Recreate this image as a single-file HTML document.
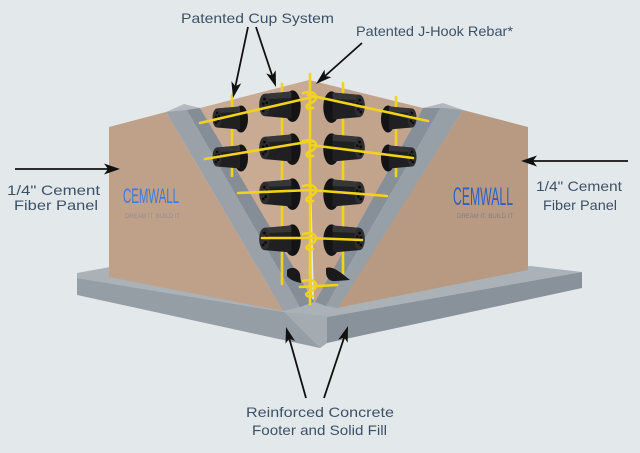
<!DOCTYPE html>
<html><head><meta charset="utf-8"><style>
html,body{margin:0;padding:0;background:#e3e9eb;}
svg{display:block;}
</style></head><body>
<svg width="640" height="453" viewBox="0 0 640 453" xmlns="http://www.w3.org/2000/svg">
<rect width="640" height="453" fill="#e3e9eb"/>

<!-- Footer -->
<polygon points="77,273 110,267 320,300 530,266 582,272 327,317 284,312 77,278" fill="#aab1b7"/>
<polygon points="77,278 284,312 327,317 327,343 320,348 77,295" fill="#959da5"/>
<polygon points="327,317 582,272 582,288 327,343" fill="#89919a"/>
<polygon points="284,312 327,316 327,343 320,348" fill="#a4abb1"/>

<!-- Back panels -->
<polygon points="200,108 309,80 312,304" fill="#c9aa92"/>
<polygon points="309,80 423,108 314,304" fill="#c2a48c"/>

<!-- Side panels -->
<polygon points="109,127 166,112 283,311 109,277" fill="#bfa088"/>
<polygon points="463,110 528,127 528,270 337,308" fill="#b89a82"/>

<!-- Left strip -->
<polygon points="166,112 184,105 300,307 283,311" fill="#9aa1a9"/>
<polygon points="184,105 200,108 314,302 300,307" fill="#858d96"/>
<polygon points="166,112 184,104 200,108 186,110" fill="#b4bac0"/>
<!-- Right strip -->
<polygon points="423,108 443,104 326,306 315,302" fill="#878f98"/>
<polygon points="443,104 463,110 338,308 326,306" fill="#979fa7"/>
<polygon points="423,108 443,103 463,110 445,108" fill="#b2b8be"/>

<!-- Logos -->
<text x="123" y="203" font-family="Liberation Sans, sans-serif" font-size="21" fill="#3b7be0" textLength="56" lengthAdjust="spacingAndGlyphs">CEMWALL</text>
<text x="125" y="218" font-family="Liberation Sans, sans-serif" font-size="6" fill="#8e8f98" textLength="55" lengthAdjust="spacingAndGlyphs">DREAM IT. BUILD IT</text>
<text x="453" y="205" font-family="Liberation Sans, sans-serif" font-size="25" fill="#2c62c4" textLength="60" lengthAdjust="spacingAndGlyphs">CEMWALL</text>
<text x="457" y="218" font-family="Liberation Sans, sans-serif" font-size="6" fill="#7c7d86" textLength="56" lengthAdjust="spacingAndGlyphs">DREAM IT. BUILD IT</text>

<!-- Rebar (behind cups) -->
<g stroke="#f2d31b" stroke-width="2.6" fill="none" stroke-linecap="round">
  <line x1="232" y1="95" x2="232" y2="176"/>
  <line x1="282" y1="84" x2="282" y2="284"/>
  <line x1="310" y1="74" x2="310" y2="304"/>
  <line x1="343" y1="83" x2="343" y2="276"/>
  <line x1="396" y1="97" x2="396" y2="176"/>
</g>

<!-- Cups: left wall (face left) -->
<g transform="translate(232,118) scale(1.0)">
  <ellipse cx="9" cy="1" rx="7" ry="13.5" fill="#141416"/>
  <path d="M-15,-9.5 L8,-11.5 L8,11.5 L-15,9.5 Z" fill="#202022"/>
  <path d="M-15,-9.5 L8,-11.5 L8,-6 L-15,-5 Z" fill="#363639"/>
  <ellipse cx="-15" cy="0" rx="4.5" ry="9.5" fill="#2e2e31"/>
  <g fill="#0b0b0b"><circle cx="-15" cy="-5" r="1.2"/><circle cx="-16" cy="-1" r="1.2"/><circle cx="-14" cy="3" r="1.2"/><circle cx="-16" cy="5" r="1.2"/><circle cx="-13" cy="-2" r="1.2"/></g>
</g>
<g transform="translate(232,157) scale(1.0)">
  <ellipse cx="9" cy="1" rx="7" ry="13.5" fill="#141416"/>
  <path d="M-15,-9.5 L8,-11.5 L8,11.5 L-15,9.5 Z" fill="#202022"/>
  <path d="M-15,-9.5 L8,-11.5 L8,-6 L-15,-5 Z" fill="#363639"/>
  <ellipse cx="-15" cy="0" rx="4.5" ry="9.5" fill="#2e2e31"/>
  <g fill="#0b0b0b"><circle cx="-15" cy="-5" r="1.2"/><circle cx="-16" cy="-1" r="1.2"/><circle cx="-14" cy="3" r="1.2"/><circle cx="-16" cy="5" r="1.2"/><circle cx="-13" cy="-2" r="1.2"/></g>
</g>
<g transform="translate(282,105) scale(1.17)">
  <ellipse cx="9" cy="1" rx="7" ry="13.5" fill="#141416"/>
  <path d="M-15,-9.5 L8,-11.5 L8,11.5 L-15,9.5 Z" fill="#202022"/>
  <path d="M-15,-9.5 L8,-11.5 L8,-6 L-15,-5 Z" fill="#363639"/>
  <ellipse cx="-15" cy="0" rx="4.5" ry="9.5" fill="#2e2e31"/>
  <g fill="#0b0b0b"><circle cx="-15" cy="-5" r="1.2"/><circle cx="-16" cy="-1" r="1.2"/><circle cx="-14" cy="3" r="1.2"/><circle cx="-16" cy="5" r="1.2"/><circle cx="-13" cy="-2" r="1.2"/></g>
</g>
<g transform="translate(282,148) scale(1.17)">
  <ellipse cx="9" cy="1" rx="7" ry="13.5" fill="#141416"/>
  <path d="M-15,-9.5 L8,-11.5 L8,11.5 L-15,9.5 Z" fill="#202022"/>
  <path d="M-15,-9.5 L8,-11.5 L8,-6 L-15,-5 Z" fill="#363639"/>
  <ellipse cx="-15" cy="0" rx="4.5" ry="9.5" fill="#2e2e31"/>
  <g fill="#0b0b0b"><circle cx="-15" cy="-5" r="1.2"/><circle cx="-16" cy="-1" r="1.2"/><circle cx="-14" cy="3" r="1.2"/><circle cx="-16" cy="5" r="1.2"/><circle cx="-13" cy="-2" r="1.2"/></g>
</g>
<g transform="translate(282,193) scale(1.17)">
  <ellipse cx="9" cy="1" rx="7" ry="13.5" fill="#141416"/>
  <path d="M-15,-9.5 L8,-11.5 L8,11.5 L-15,9.5 Z" fill="#202022"/>
  <path d="M-15,-9.5 L8,-11.5 L8,-6 L-15,-5 Z" fill="#363639"/>
  <ellipse cx="-15" cy="0" rx="4.5" ry="9.5" fill="#2e2e31"/>
  <g fill="#0b0b0b"><circle cx="-15" cy="-5" r="1.2"/><circle cx="-16" cy="-1" r="1.2"/><circle cx="-14" cy="3" r="1.2"/><circle cx="-16" cy="5" r="1.2"/><circle cx="-13" cy="-2" r="1.2"/></g>
</g>
<g transform="translate(282,239) scale(1.17)">
  <ellipse cx="9" cy="1" rx="7" ry="13.5" fill="#141416"/>
  <path d="M-15,-9.5 L8,-11.5 L8,11.5 L-15,9.5 Z" fill="#202022"/>
  <path d="M-15,-9.5 L8,-11.5 L8,-6 L-15,-5 Z" fill="#363639"/>
  <ellipse cx="-15" cy="0" rx="4.5" ry="9.5" fill="#2e2e31"/>
  <g fill="#0b0b0b"><circle cx="-15" cy="-5" r="1.2"/><circle cx="-16" cy="-1" r="1.2"/><circle cx="-14" cy="3" r="1.2"/><circle cx="-16" cy="5" r="1.2"/><circle cx="-13" cy="-2" r="1.2"/></g>
</g>

<!-- Cups: right wall (face right) -->
<g transform="translate(342,106) scale(-1.17,1.17)">
  <ellipse cx="9" cy="1" rx="7" ry="13.5" fill="#141416"/>
  <path d="M-15,-9.5 L8,-11.5 L8,11.5 L-15,9.5 Z" fill="#202022"/>
  <path d="M-15,-9.5 L8,-11.5 L8,-6 L-15,-5 Z" fill="#363639"/>
  <ellipse cx="-15" cy="0" rx="4.5" ry="9.5" fill="#2e2e31"/>
  <g fill="#0b0b0b"><circle cx="-15" cy="-5" r="1.2"/><circle cx="-16" cy="-1" r="1.2"/><circle cx="-14" cy="3" r="1.2"/><circle cx="-16" cy="5" r="1.2"/><circle cx="-13" cy="-2" r="1.2"/></g>
</g>
<g transform="translate(342,148) scale(-1.17,1.17)">
  <ellipse cx="9" cy="1" rx="7" ry="13.5" fill="#141416"/>
  <path d="M-15,-9.5 L8,-11.5 L8,11.5 L-15,9.5 Z" fill="#202022"/>
  <path d="M-15,-9.5 L8,-11.5 L8,-6 L-15,-5 Z" fill="#363639"/>
  <ellipse cx="-15" cy="0" rx="4.5" ry="9.5" fill="#2e2e31"/>
  <g fill="#0b0b0b"><circle cx="-15" cy="-5" r="1.2"/><circle cx="-16" cy="-1" r="1.2"/><circle cx="-14" cy="3" r="1.2"/><circle cx="-16" cy="5" r="1.2"/><circle cx="-13" cy="-2" r="1.2"/></g>
</g>
<g transform="translate(342,193) scale(-1.17,1.17)">
  <ellipse cx="9" cy="1" rx="7" ry="13.5" fill="#141416"/>
  <path d="M-15,-9.5 L8,-11.5 L8,11.5 L-15,9.5 Z" fill="#202022"/>
  <path d="M-15,-9.5 L8,-11.5 L8,-6 L-15,-5 Z" fill="#363639"/>
  <ellipse cx="-15" cy="0" rx="4.5" ry="9.5" fill="#2e2e31"/>
  <g fill="#0b0b0b"><circle cx="-15" cy="-5" r="1.2"/><circle cx="-16" cy="-1" r="1.2"/><circle cx="-14" cy="3" r="1.2"/><circle cx="-16" cy="5" r="1.2"/><circle cx="-13" cy="-2" r="1.2"/></g>
</g>
<g transform="translate(342,239) scale(-1.17,1.17)">
  <ellipse cx="9" cy="1" rx="7" ry="13.5" fill="#141416"/>
  <path d="M-15,-9.5 L8,-11.5 L8,11.5 L-15,9.5 Z" fill="#202022"/>
  <path d="M-15,-9.5 L8,-11.5 L8,-6 L-15,-5 Z" fill="#363639"/>
  <ellipse cx="-15" cy="0" rx="4.5" ry="9.5" fill="#2e2e31"/>
  <g fill="#0b0b0b"><circle cx="-15" cy="-5" r="1.2"/><circle cx="-16" cy="-1" r="1.2"/><circle cx="-14" cy="3" r="1.2"/><circle cx="-16" cy="5" r="1.2"/><circle cx="-13" cy="-2" r="1.2"/></g>
</g>
<g transform="translate(397,118) scale(-1.0,1.0)">
  <ellipse cx="9" cy="1" rx="7" ry="13.5" fill="#141416"/>
  <path d="M-15,-9.5 L8,-11.5 L8,11.5 L-15,9.5 Z" fill="#202022"/>
  <path d="M-15,-9.5 L8,-11.5 L8,-6 L-15,-5 Z" fill="#363639"/>
  <ellipse cx="-15" cy="0" rx="4.5" ry="9.5" fill="#2e2e31"/>
  <g fill="#0b0b0b"><circle cx="-15" cy="-5" r="1.2"/><circle cx="-16" cy="-1" r="1.2"/><circle cx="-14" cy="3" r="1.2"/><circle cx="-16" cy="5" r="1.2"/><circle cx="-13" cy="-2" r="1.2"/></g>
</g>
<g transform="translate(397,157) scale(-1.0,1.0)">
  <ellipse cx="9" cy="1" rx="7" ry="13.5" fill="#141416"/>
  <path d="M-15,-9.5 L8,-11.5 L8,11.5 L-15,9.5 Z" fill="#202022"/>
  <path d="M-15,-9.5 L8,-11.5 L8,-6 L-15,-5 Z" fill="#363639"/>
  <ellipse cx="-15" cy="0" rx="4.5" ry="9.5" fill="#2e2e31"/>
  <g fill="#0b0b0b"><circle cx="-15" cy="-5" r="1.2"/><circle cx="-16" cy="-1" r="1.2"/><circle cx="-14" cy="3" r="1.2"/><circle cx="-16" cy="5" r="1.2"/><circle cx="-13" cy="-2" r="1.2"/></g>
</g>

<!-- partially hidden bottom cups -->
<path d="M287,270 C292,266 298,268 300,274 L301,283 C296,282 290,280 287,276 Z" fill="#1a1a1c"/>
<path d="M326,268 C332,266 338,270 350,280 L336,281 C330,282 326,278 326,272 Z" fill="#1a1a1c"/>

<!-- Horizontal rebar (front of cups) -->
<g stroke="#f2d31b" stroke-width="2.6" fill="none" stroke-linecap="round">
  <line x1="200" y1="123" x2="313" y2="97"/>
  <line x1="205" y1="159" x2="313" y2="141"/>
  <line x1="238" y1="193" x2="313" y2="190"/>
  <line x1="262" y1="238" x2="310" y2="238"/>
  <line x1="300" y1="287" x2="337" y2="285"/>
  <line x1="308" y1="95" x2="428" y2="121"/>
  <line x1="310" y1="145" x2="413" y2="158"/>
  <line x1="310" y1="190" x2="387" y2="196"/>
  <line x1="310" y1="238" x2="362" y2="240"/>
  <!-- J-hook curls -->
  <path d="M303,93 C318,89 319,100 311,103 C304,105 305,110 313,108"/>
  <path d="M303,141 C318,137 319,148 311,151 C304,153 305,158 313,156"/>
  <path d="M303,186 C318,182 319,193 311,196 C304,198 305,203 313,201"/>
  <path d="M303,234 C318,230 319,241 311,244 C304,246 305,251 313,249"/>
  <path d="M303,281 C318,277 319,288 311,291 C304,293 305,298 313,296"/>
</g>

<!-- Arrows -->
<g stroke="#111" stroke-width="1.8" fill="none">
  <line x1="248" y1="27" x2="235.5" y2="86"/>
  <line x1="256" y1="27" x2="272.2" y2="75.6"/>
  <line x1="362" y1="43" x2="325" y2="76"/>
  <line x1="15" y1="169" x2="108" y2="169"/>
  <line x1="628" y1="161" x2="533" y2="161"/>
  <line x1="306" y1="398" x2="289.3" y2="338.5"/>
  <line x1="324" y1="398" x2="344.2" y2="337.4"/>
</g>
<g fill="#111">
  <polygon points="233,98 241.2,83.4 235.5,86.3 231.4,81.3"/>
  <polygon points="276,87 275.7,70.2 272.2,75.6 266.2,73.4"/>
  <polygon points="316,84 331.3,77.1 325,76 324.6,69.6"/>
  <polygon points="120,169 104,163.5 108,169 104,174.5"/>
  <polygon points="521,161 537,155.5 533,161 537,166.5"/>
  <polygon points="286,327 295.1,341 289.3,338.5 285.5,343.8"/>
  <polygon points="348,326 347.7,342.8 344.2,337.4 338.2,339.6"/>
</g>

<!-- Labels -->
<g font-family="Liberation Sans, sans-serif" fill="#3d5166" font-size="14">
  <text x="181" y="23" textLength="153" lengthAdjust="spacingAndGlyphs">Patented Cup System</text>
  <text x="356" y="36" textLength="157" lengthAdjust="spacingAndGlyphs">Patented J-Hook Rebar*</text>
  <text x="7" y="195" textLength="93" lengthAdjust="spacingAndGlyphs">1/4" Cement</text>
  <text x="14" y="210" textLength="84" lengthAdjust="spacingAndGlyphs">Fiber Panel</text>
  <text x="536" y="191" textLength="86" lengthAdjust="spacingAndGlyphs">1/4" Cement</text>
  <text x="543" y="210" textLength="74" lengthAdjust="spacingAndGlyphs">Fiber Panel</text>
  <text x="246" y="417" textLength="148" lengthAdjust="spacingAndGlyphs">Reinforced Concrete</text>
  <text x="252" y="435" textLength="135" lengthAdjust="spacingAndGlyphs">Footer and Solid Fill</text>
</g>
</svg>
</body></html>
